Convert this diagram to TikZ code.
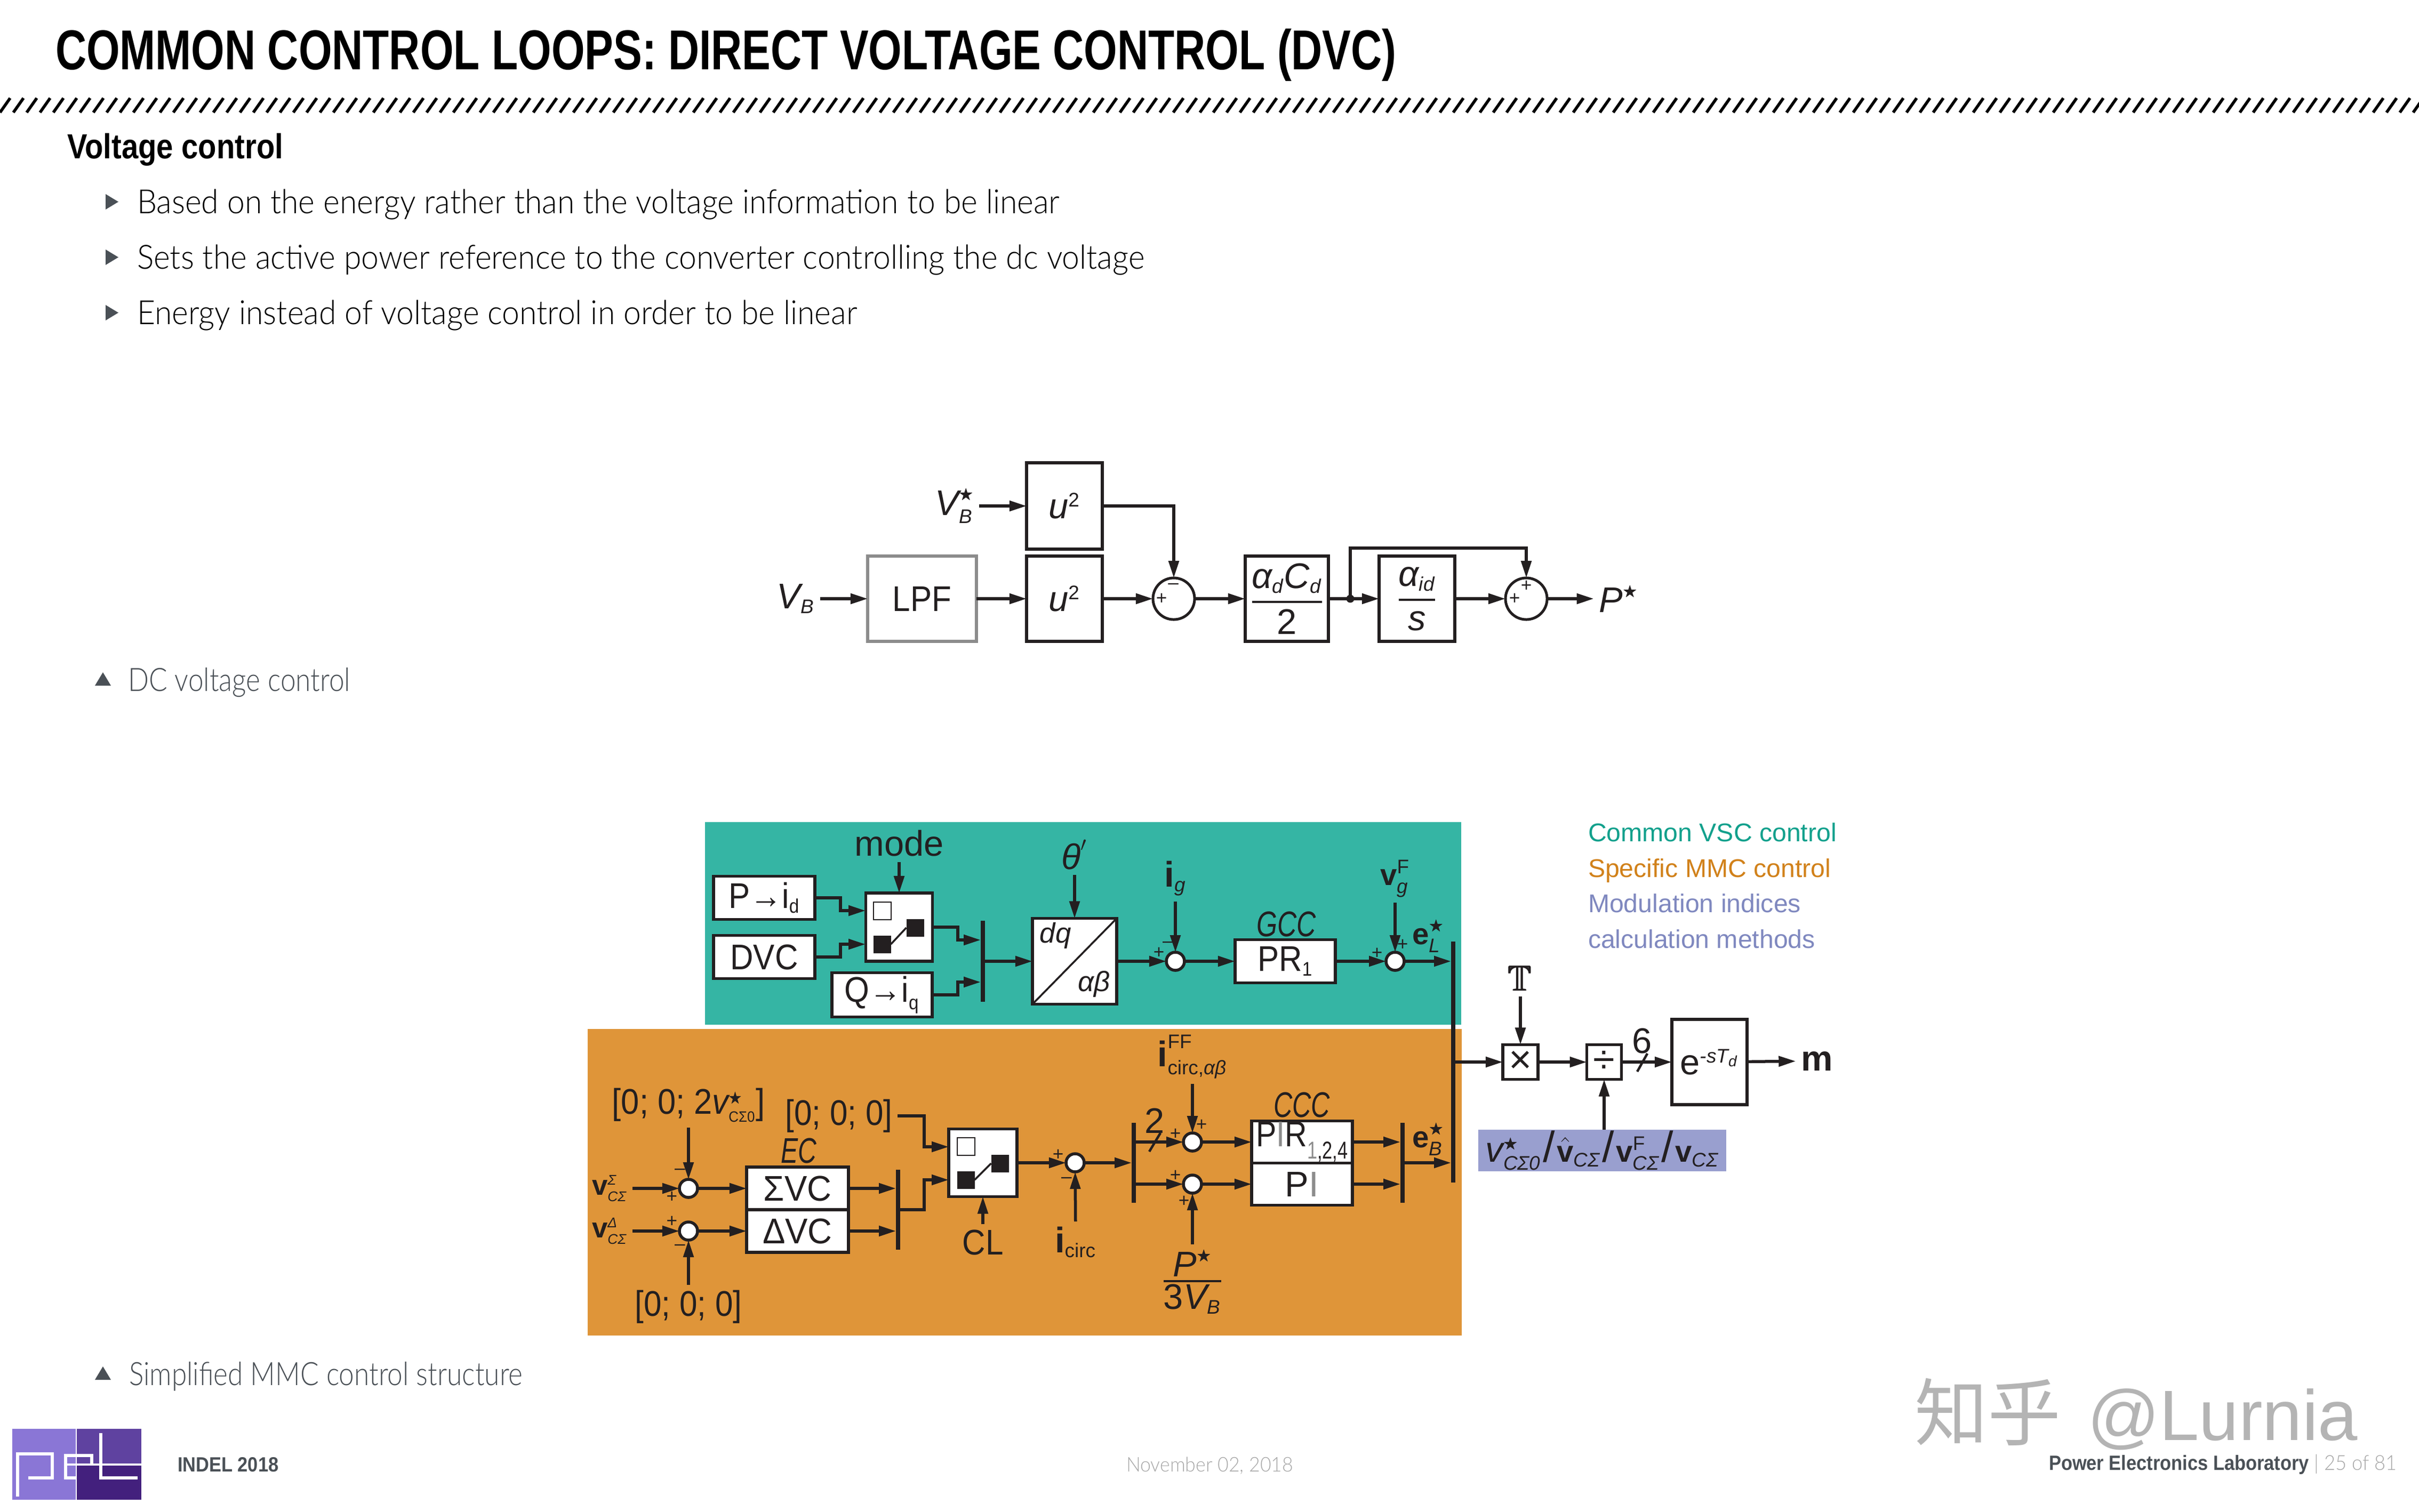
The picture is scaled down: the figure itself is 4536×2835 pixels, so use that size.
\documentclass[tikz,border=0pt]{standalone}
\usepackage{fontspec}
\usepackage{amsmath}
\usepackage{amssymb}
\usepackage{color}
\usetikzlibrary{arrows.meta}
\setmainfont{Liberation Sans}
\newfontfamily\condfont[FakeStretch=0.763]{Liberation Sans}
\newfontfamily\headfont[FakeStretch=0.86]{Liberation Sans}
\newfontfamily\footfont[FakeStretch=0.89]{Liberation Sans}
\newfontfamily\lightfont[FakeStretch=0.94,UprightFont=* Light]{Lato}
\newfontfamily\lightcap[FakeStretch=0.85,UprightFont=* Light]{Lato}
\newfontfamily\cjkfont{Noto Sans CJK SC}
\DeclareMathSizes{19}{19}{10.5}{8}
\DeclareMathSizes{15}{15}{7.5}{6}
\definecolor{linecol}{RGB}{35, 31, 32}
\definecolor{tealband}{RGB}{53, 181, 164}
\definecolor{orangeband}{RGB}{223, 149, 57}
\definecolor{purpleband}{RGB}{153, 159, 207}
\definecolor{tealtext}{RGB}{18, 160, 140}
\definecolor{orangetext}{RGB}{209, 129, 26}
\definecolor{purpletext}{RGB}{127, 136, 191}
\definecolor{slategray}{RGB}{74, 80, 86}
\definecolor{softgray}{RGB}{168, 168, 168}
\definecolor{markgray}{RGB}{180, 180, 180}
\definecolor{lpfgray}{RGB}{140, 140, 140}
\definecolor{logolight}{RGB}{138, 118, 214}
\definecolor{logomid}{RGB}{95, 66, 160}
\definecolor{logodark}{RGB}{67, 32, 125}
\newcommand{\tit}[1]{\text{\itshape #1}}
\newcommand{\tbf}[1]{\text{\bfseries #1}}
\newcommand{\trm}[1]{\text{\upshape\mdseries #1}}
\newcommand{\boldlow}[1]{\text{\bfseries\fontsize{16}{16}\selectfont #1}}
\newcommand{\bigslash}{\mkern1mu\text{\fontsize{23}{23}\selectfont /}\mkern1mu}
\newcommand{\refstar}{\scalebox{0.42}{$\bigstar$}}
\newcommand{\narrowtext}[1]{\scalebox{0.9}[1]{#1}}
\tikzset{
    blockbox/.style={draw=linecol, line width=0.055cm, fill=white, inner sep=0pt, outer sep=0pt,
                     text=linecol, font=\fontsize{19}{22}\selectfont},
    labeltext/.style={inner sep=0pt, outer sep=0.1cm, text=linecol, font=\fontsize{19}{22}\selectfont},
    smalllabel/.style={labeltext, font=\fontsize{15}{18}\selectfont},
    signmark/.style={inner sep=0pt, outer sep=0pt, text=linecol, font=\fontsize{10}{12}\selectfont},
    sumnode/.style={circle, draw=linecol, line width=0.055cm, fill=white, inner sep=0pt, outer sep=0pt,
                    minimum size=0.34cm},
    bigsum/.style={sumnode, minimum size=0.78cm, line width=0.05cm},
    busbar/.style={fill=linecol, inner sep=0pt, outer sep=0pt, minimum width=0.08cm},
    swtab/.style={inner sep=0pt, outer sep=0pt, minimum width=0.33cm, minimum height=0.33cm},
    sigline/.style={draw=linecol, line width=0.055cm, -{Triangle[length=0.32cm, width=0.19cm]}},
    thinline/.style={draw=linecol, line width=0.035cm},
    slashmark/.style={draw=linecol, line width=0.045cm},
    pagetext/.style={anchor=base west, inner sep=0pt, outer sep=0pt},
    bodytext/.style={pagetext, font=\lightfont\fontsize{17.8}{21}\selectfont, text=black},
    captext/.style={pagetext, font=\lightcap\fontsize{17.2}{21}\selectfont, text=slategray},
    legendtext/.style={pagetext, font=\fontsize{13.7}{16}\selectfont}
}
\begin{document}
\begin{tikzpicture}[x=0.01cm, y=-0.01cm]
    \useasboundingbox (0,0) rectangle (4536,2835);
    % Page header
    \node[pagetext, font=\condfont\bfseries\fontsize{30}{36}\selectfont] (title) at (104,130) {COMMON CONTROL LOOPS: DIRECT VOLTAGE CONTROL (DVC)};
    \foreach \hx in {-25,0,...,4550}
        \draw[black, line width=0.055cm] (\hx,211) -- ++(19,-27);
    \node[pagetext, font=\headfont\bfseries\fontsize{18.6}{22}\selectfont] (subhead) at (126,297) {Voltage control};
    \fill[slategray] (198,364) -- (222,378.5) -- (198,393) -- cycle;
    \fill[slategray] (198,468) -- (222,482.5) -- (198,497) -- cycle;
    \fill[slategray] (198,572) -- (222,586.5) -- (198,601) -- cycle;
    \node[bodytext] (itemA) at (257,400) {Based on the energy rather than the voltage information to be linear};
    \node[bodytext] (itemB) at (257,504) {Sets the active power reference to the converter controlling the dc voltage};
    \node[bodytext] (itemC) at (257,608) {Energy instead of voltage control in order to be linear};

    % DC voltage loop
    \node[blockbox, draw=lpfgray, minimum width=2.04cm, minimum height=1.60cm] (lpf) at (1729,1123) {\narrowtext{LPF}};
    \node[blockbox, minimum width=1.42cm, minimum height=1.62cm] (usqtop) at (1996,949) {$\tit{u}^{\trm{2}}$};
    \node[blockbox, minimum width=1.42cm, minimum height=1.60cm] (usqbot) at (1996,1123) {$\tit{u}^{\trm{2}}$};
    \node[bigsum] (sumA) at (2201,1123) {};
    \node[blockbox, minimum width=1.56cm, minimum height=1.60cm] (gainE) at (2413,1123)
        {$\genfrac{}{}{1.1pt}{0}{\tit{α}_{\tit{d}}\tit{C}_{\tit{d}}}{\trm{2}}$};
    \node[circle, fill=linecol, inner sep=0pt, outer sep=0pt, minimum size=0.15cm] (tap) at (2532,1123) {};
    \node[blockbox, minimum width=1.42cm, minimum height=1.60cm] (gainI) at (2657,1123)
        {$\genfrac{}{}{1.1pt}{0}{\tit{α}_{\tit{id}}}{\tit{s}}$};
    \node[bigsum] (sumB) at (2862,1123) {};
    \node[labeltext] (vbref) at (1790,949) {$\tit{V}_{\tit{B}}^{\refstar}$};
    \node[labeltext] (vbmeas) at (1492,1123) {$\tit{V}_{\tit{B}}$};
    \node[labeltext] (pref) at (3035,1123) {$\tit{P}^{\refstar}$};
    \coordinate (fbtop) at (2532,1028);
    \draw[sigline] (vbref) -- (usqtop);
    \draw[sigline] (vbmeas) -- (lpf);
    \draw[sigline] (lpf) -- (usqbot);
    \draw[sigline] (usqbot) -- (sumA);
    \draw[sigline] (usqtop.east) -| (sumA.north);
    \draw[sigline] (sumA) -- (gainE);
    \draw[sigline] (gainE) -- (gainI);
    \draw[sigline] (gainI) -- (sumB);
    \draw[sigline] (tap) -- (fbtop) -| (sumB.north);
    \draw[sigline] (sumB) -- (pref);
    \node[signmark] (sgA) at (2178,1123) {+};
    \node[signmark] (sgB) at (2200,1099) {–};
    \node[signmark] (sgC) at (2840,1123) {+};
    \node[signmark] (sgD) at (2862,1099) {+};
    \fill[slategray] (178,1286) -- (208,1286) -- (193,1261) -- cycle;
    \node[captext] (capA) at (240,1296) {DC voltage control};

    % Bands
    \fill[tealband] (1322,1542) rectangle (2740,1922);
    \fill[orangeband] (1102,1930) rectangle (2741,2505);

    % Common VSC control
    \node[blockbox, minimum width=1.90cm, minimum height=0.81cm] (pid) at (1433,1684) {\narrowtext{$\trm{P→i}_{\trm{d}}$}};
    \node[blockbox, minimum width=1.90cm, minimum height=0.81cm] (dvc) at (1433,1795) {\narrowtext{DVC}};
    \node[blockbox, minimum width=1.88cm, minimum height=0.83cm] (qiq) at (1654,1866) {\narrowtext{$\trm{Q→i}_{\trm{q}}$}};
    \node[blockbox, minimum width=1.25cm, minimum height=1.28cm] (swA) at (1686,1739) {};
    \node[swtab, draw=linecol, fill=white, line width=0.02cm] (swAopen) at (1654,1708) {};
    \node[swtab, fill=linecol] (swAup) at (1716,1740) {};
    \node[swtab, fill=linecol] (swAlow) at (1654,1771) {};
    \draw[thinline] (swAlow.east) -- (swAup.west);
    \node[busbar, minimum height=1.51cm] (busA) at (1843,1803) {};
    \node[blockbox, minimum width=1.58cm, minimum height=1.61cm] (dqab) at (2015,1803) {};
    \draw[thinline] (dqab.south west) -- (dqab.north east);
    \node[inner sep=0pt, text=linecol, font=\fontsize{15}{18}\selectfont\itshape] (dqtext) at (1979,1755) {dq};
    \node[inner sep=0pt, text=linecol, font=\fontsize{15}{18}\selectfont\itshape] (abtext) at (2052,1846) {αβ};
    \node[sumnode] (sumC) at (2204,1803) {};
    \node[blockbox, minimum width=1.88cm, minimum height=0.81cm] (prone) at (2410,1803) {\narrowtext{$\trm{PR}_{\trm{1}}$}};
    \node[sumnode] (sumD) at (2616,1803) {};
    \node[busbar, minimum height=4.51cm] (bigbus) at (2725,1992) {};
    \node[labeltext] (mode) at (1686,1582) {mode};
    \node[labeltext] (theta) at (2015,1603) {$\tit{θ}'$};
    \node[labeltext] (ig) at (2204,1648) {$\tbf{i}_{\tit{g}}$};
    \node[labeltext] (vg) at (2616,1648) {$\boldlow{v}_{\tit{g}}^{\trm{F}}$};
    \node[labeltext] (gcc) at (2412,1733) {\scalebox{0.75}[1]{\itshape GCC}};
    \node[labeltext] (elref) at (2678,1756) {$\boldlow{e}_{\tit{L}}^{\refstar}$};
    \coordinate (kneeA) at (1576,1708);
    \coordinate (swAinA) at (1623,1708);
    \coordinate (kneeB) at (1576,1771);
    \coordinate (swAinB) at (1623,1771);
    \coordinate (kneeC) at (1796,1763);
    \coordinate (kneeD) at (1796,1842);
    \draw[sigline] (pid.east) -| (kneeA) -- (swAinA);
    \draw[sigline] (dvc.east) -| (kneeB) -- (swAinB);
    \draw[sigline] (mode) -- (swA);
    \draw[sigline] (swA.east) -| (kneeC) -- (busA.west |- kneeC);
    \draw[sigline] (qiq.east) -| (kneeD) -- (busA.west |- kneeD);
    \draw[sigline] (busA) -- (dqab);
    \draw[sigline] (theta) -- (dqab);
    \draw[sigline] (dqab) -- (sumC);
    \draw[sigline] (ig) -- (sumC);
    \draw[sigline] (sumC) -- (prone);
    \draw[sigline] (prone) -- (sumD);
    \draw[sigline] (vg) -- (sumD);
    \draw[sigline] (sumD) -- (bigbus.west |- sumD);
    \node[signmark] (sgE) at (2173,1787) {+};
    \node[signmark] (sgF) at (2190,1771) {–};
    \node[signmark] (sgG) at (2582,1788) {+};
    \node[signmark] (sgH) at (2630,1772) {+};

    % Specific MMC control
    \node[sumnode] (sumE) at (1291,2229) {};
    \node[sumnode] (sumF) at (1291,2309) {};
    \node[blockbox, minimum width=1.91cm, minimum height=0.80cm] (svc) at (1495.5,2229) {\scalebox{0.95}[1]{ΣVC}};
    \node[blockbox, minimum width=1.91cm, minimum height=0.80cm] (dlvc) at (1495.5,2309) {\scalebox{0.95}[1]{ΔVC}};
    \node[busbar, minimum height=1.50cm] (busB) at (1684,2269) {};
    \node[blockbox, minimum width=1.28cm, minimum height=1.27cm] (swB) at (1843,2181) {};
    \node[swtab, draw=linecol, fill=white, line width=0.02cm] (swBopen) at (1811,2150) {};
    \node[swtab, fill=linecol] (swBup) at (1875,2182) {};
    \node[swtab, fill=linecol] (swBlow) at (1811,2213) {};
    \draw[thinline] (swBlow.east) -- (swBup.west);
    \node[sumnode] (sumG) at (2016,2181) {};
    \node[busbar, minimum height=1.50cm] (busC) at (2126,2181) {};
    \node[sumnode] (sumH) at (2236,2142) {};
    \node[sumnode] (sumI) at (2236,2221) {};
    \node[blockbox, minimum width=1.89cm, minimum height=0.79cm] (pir) at (2441.5,2142)
        {\scalebox{0.86}[1]{P\textcolor{lpfgray}{I}R}\raisebox{-0.35em}{\fontsize{13}{15}\selectfont\scalebox{0.75}[1]{\textcolor{lpfgray}{1},2,4}}};
    \node[blockbox, minimum width=1.89cm, minimum height=0.79cm] (pione) at (2441.5,2221) {P\textcolor{lpfgray}{I}};
    \node[busbar, minimum height=1.50cm] (busD) at (2630,2181) {};
    \node[smalllabel] (vsig) at (1143,2229) {$\tbf{v}_{\tit{CΣ}}^{\tit{Σ}}$};
    \node[smalllabel] (vdel) at (1143,2309) {$\tbf{v}_{\tit{CΣ}}^{\tit{Δ}}$};
    \node[labeltext] (brtwo) at (1291,2073) {\scalebox{0.92}[1]{[0; 0; 2$\tit{v}_{\scriptscriptstyle\trm{CΣ0}}^{\refstar}$]}};
    \node[labeltext] (brzero) at (1573,2093) {\narrowtext{[0; 0; 0]}};
    \node[labeltext] (brdown) at (1291,2451) {\narrowtext{[0; 0; 0]}};
    \node[labeltext] (ectext) at (1498,2158) {\scalebox{0.72}[1]{\itshape EC}};
    \node[labeltext] (cltext) at (1843,2330) {\narrowtext{CL}};
    \node[labeltext] (icirc) at (2017,2330) {$\tbf{i}_{\trm{circ}}$};
    \node[labeltext] (iff) at (2236,1982) {$\tbf{i}_{\trm{circ,}\tit{αβ}}^{\trm{FF}}$};
    \node[labeltext] (pfrac) at (2236,2404) {$\genfrac{}{}{1.1pt}{1}{\textstyle\tit{P}^{\refstar}}{\textstyle\trm{3}\tit{V}_{\tit{B}}}$};
    \node[labeltext] (ccc) at (2441,2072) {\scalebox{0.73}[1]{\itshape CCC}};
    \node[labeltext] (ebref) at (2678,2137) {$\boldlow{e}_{\tit{B}}^{\refstar}$};
    \node[labeltext, outer sep=0pt] (numtwo) at (2165,2102) {2};
    \coordinate (kneeE) at (1733,2213);
    \coordinate (swBinB) at (1779,2213);
    \coordinate (kneeF) at (1733,2151);
    \coordinate (swBinA) at (1779,2151);
    \draw[sigline] (vsig) -- (sumE);
    \draw[sigline] (vdel) -- (sumF);
    \draw[sigline] (brtwo) -- (sumE);
    \draw[sigline] (brdown) -- (sumF);
    \draw[sigline] (sumE) -- (svc);
    \draw[sigline] (sumF) -- (dlvc);
    \draw[sigline] (svc.east) -- (busB.west |- svc.east);
    \draw[sigline] (dlvc.east) -- (busB.west |- dlvc.east);
    \draw[sigline] (busB.east) -| (kneeE) -- (swBinB);
    \draw[sigline] (brzero.east) -| (kneeF) -- (swBinA);
    \draw[sigline] (cltext) -- (swB);
    \draw[sigline] (swB) -- (sumG);
    \draw[sigline] (icirc) -- (sumG);
    \draw[sigline] (sumG) -- (busC);
    \draw[sigline] (busC.east |- sumH) -- (sumH);
    \draw[sigline] (busC.east |- sumI) -- (sumI);
    \draw[sigline] (iff) -- (sumH);
    \draw[sigline] (pfrac) -- (sumI);
    \draw[sigline] (sumH) -- (pir);
    \draw[sigline] (sumI) -- (pione);
    \draw[sigline] (pir.east) -- (busD.west |- pir.east);
    \draw[sigline] (pione.east) -- (busD.west |- pione.east);
    \draw[sigline] (busD) -- (bigbus.west |- busD);
    \draw[slashmark] (2155,2160) -- (2176,2125);
    \node[signmark] (sgI) at (1275,2197) {–};
    \node[signmark] (sgJ) at (1260,2245) {+};
    \node[signmark] (sgK) at (1260,2291) {+};
    \node[signmark] (sgL) at (1275,2339) {–};
    \node[signmark] (sgM) at (1984,2166) {+};
    \node[signmark] (sgN) at (2000,2213) {–};
    \node[signmark] (sgO) at (2204,2127) {+};
    \node[signmark] (sgP) at (2253,2110) {+};
    \node[signmark] (sgQ) at (2204,2205) {+};
    \node[signmark] (sgR) at (2220,2253) {+};

    % Modulation indices
    \node[blockbox, minimum width=0.66cm, minimum height=0.65cm, font=\fontsize{21}{24}\selectfont] (mult) at (2851,1992) {×};
    \node[blockbox, minimum width=0.65cm, minimum height=0.65cm, font=\fontsize{21}{24}\selectfont] (divd) at (3008,1992) {÷};
    \node[blockbox, minimum width=1.41cm, minimum height=1.60cm] (edelay) at (3205.5,1992) {$\trm{e}^{\tit{-s}\tit{T}_{\tit{d}}}$};
    \node[labeltext] (tmat) at (2851,1835) {$\pmb{\mathbb{T}}$};
    \node[labeltext, font=\bfseries\fontsize{19}{22}\selectfont] (mout) at (3407,1990) {m};
    \node[blockbox, draw=none, fill=purpleband, minimum width=4.65cm, minimum height=0.78cm] (modbox) at (3004.5,2158)
        {$\tit{v}_{\tit{CΣ0}}^{\refstar}\bigslash\hat{\boldlow{v}}_{\tit{CΣ}}\bigslash\boldlow{v}_{\tit{CΣ}}^{\trm{F}}\bigslash\boldlow{v}_{\tit{CΣ}}$};
    \node[labeltext, outer sep=0pt] (numsix) at (3079,1952) {6};
    \draw[sigline] (bigbus.east) -- (mult.west);
    \draw[sigline] (tmat) -- (mult);
    \draw[sigline] (mult) -- (divd);
    \draw[sigline] (divd) -- (edelay);
    \draw[sigline] (edelay) -- (mout);
    \draw[sigline] (divd |- modbox.north) -- (divd.south);
    \draw[slashmark] (3070,2010) -- (3089,1976);

    % Legend
    \node[legendtext, text=tealtext] (legA) at (2978,1578) {Common VSC control};
    \node[legendtext, text=orangetext] (legB) at (2978,1645) {Specific MMC control};
    \node[legendtext, text=purpletext] (legC) at (2978,1711) {Modulation indices};
    \node[legendtext, text=purpletext] (legD) at (2978,1778) {calculation methods};

    % Page footer
    \fill[slategray] (178,2588) -- (208,2588) -- (193,2563) -- cycle;
    \node[captext] (capB) at (242,2598) {Simplified MMC control structure};
    \fill[logolight] (23,2680) rectangle (142,2813);
    \fill[logomid] (144,2680) rectangle (265,2746);
    \fill[logodark] (144,2748) rectangle (265,2813);
    \draw[white, line width=0.06cm] (33,2807) -- (33,2727) -- (98,2727) -- (98,2772) -- (53,2772);
    \draw[white, line width=0.04cm] (123,2747) -- (265,2747);
    \draw[white, line width=0.06cm] (172,2747) -- (172,2730) -- (123,2730) -- (123,2772) -- (144,2772);
    \draw[white, line width=0.06cm] (189,2688) -- (189,2772) -- (258,2772);
    \node[pagetext, font=\footfont\bfseries\fontsize{11}{13}\selectfont, text=slategray] (event) at (333,2760) {INDEL 2018};
    \node[pagetext, font=\lightfont\fontsize{10.8}{13}\selectfont, text=softgray] (datetext) at (2112,2760) {November 02, 2018};
    \node[pagetext, font=\footfont\fontsize{11}{13}\selectfont] (footlab) at (3842,2757)
        {\textcolor{slategray}{\bfseries Power Electronics Laboratory} \textcolor{softgray}{\lightfont| 25 of 81}};
    \node[pagetext, font=\cjkfont\fontsize{39}{42}\selectfont, text=markgray] (markzh) at (3590,2700) {知乎};
    \node[pagetext, font=\fontsize{38}{42}\selectfont, text=markgray] (marklat) at (3914,2701) {@Lurnia};
\end{tikzpicture}
\end{document}
